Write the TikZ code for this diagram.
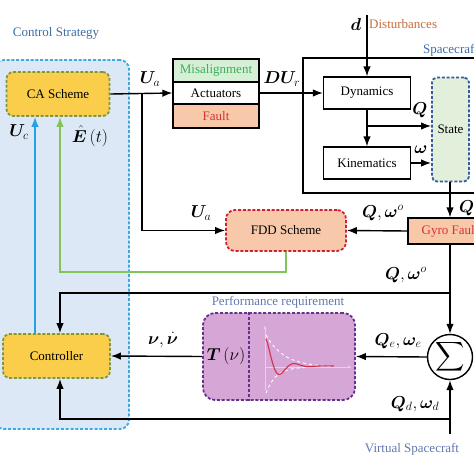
\documentclass[tikz,border=0pt]{standalone}
\usepackage{amsmath,bm}
\usepackage{graphicx}
\usepackage{fontspec}
\setmainfont{Liberation Serif}
\usetikzlibrary{arrows.meta,calc}
\definecolor{csfill}{RGB}{220,232,245}
\definecolor{csline}{RGB}{60,170,225}
\definecolor{yel}{RGB}{250,205,75}
\definecolor{olive}{RGB}{130,150,60}
\definecolor{misfill}{RGB}{214,240,214}
\definecolor{mistext}{RGB}{60,175,90}
\definecolor{salmon}{RGB}{248,200,170}
\definecolor{faulttext}{RGB}{215,50,50}
\definecolor{fddline}{RGB}{210,30,50}
\definecolor{statefill}{RGB}{226,239,218}
\definecolor{stateline}{RGB}{55,90,160}
\definecolor{perffill}{RGB}{214,166,214}
\definecolor{perfline}{RGB}{100,50,140}
\definecolor{ucline}{RGB}{40,160,225}
\definecolor{ehline}{RGB}{130,195,90}
\definecolor{lblue}{RGB}{60,110,170}
\definecolor{plblue}{RGB}{100,120,175}
\definecolor{dist}{RGB}{200,110,60}
\definecolor{axcol}{RGB}{225,210,240}
\definecolor{curve}{RGB}{210,50,70}
\begin{document}
\begin{tikzpicture}[x=1pt,y=-1pt,font=\fontsize{13}{15}\selectfont,
  arr/.style={line width=1.4pt,-{Latex[length=10pt,width=7.5pt]}},
  dbox/.style={draw,dash pattern=on 3pt off 1.8pt,line width=1.8pt,rounded corners=7pt,inner sep=0pt},
  sbox/.style={draw,line width=1.2pt,inner sep=0pt},
  lab/.style={font=\fontsize{17}{17}\selectfont,inner sep=0pt}]
\useasboundingbox (0,0) rectangle (474,474);
\clip (0,0) rectangle (474,474);
\fill[white] (0,0) rectangle (474,474);
% group boxes
\node[dbox,draw=csline,fill=csfill,rounded corners=9pt,minimum width=134,minimum height=369] (cs) at (62,244.5) {};
\node[sbox,minimum width=187,minimum height=135] (sc) at (396.5,125.5) {};
% blocks
\node[dbox,draw=olive,fill=yel,minimum width=103,minimum height=44] (ca) at (58,94) {CA Scheme};
\node[dbox,draw=olive,fill=yel,minimum width=107,minimum height=44] (ctrl) at (56.5,356) {Controller};
\node[sbox,fill=misfill,text=mistext,minimum width=86,minimum height=23] (mis) at (216,70.5) {Misalignment};
\node[sbox,fill=white,minimum width=86,minimum height=22] (act) at (216,93) {Actuators};
\node[sbox,fill=salmon,text=faulttext,minimum width=86,minimum height=24] (flt) at (216,116) {Fault};
\node[sbox,fill=white,minimum width=87,minimum height=32] (dyn) at (367,93) {Dynamics};
\node[sbox,fill=white,minimum width=87,minimum height=32] (kin) at (367,163) {Kinematics};
\node[dbox,draw=stateline,fill=statefill,rounded corners=5pt,minimum width=37,minimum height=104] (st) at (450.5,129.5) {State};
\node[sbox,fill=salmon,text=faulttext,minimum width=84,minimum height=26] (gyro) at (450,231) {Gyro Fault};
\node[dbox,draw=fddline,fill=salmon,rounded corners=9pt,minimum width=120,minimum height=41] (fdd) at (286,230.5) {FDD Scheme};
\node[dbox,draw=perfline,fill=perffill,rounded corners=12pt,minimum width=152,minimum height=87] (perf) at (279,356.5) {};
\node[circle,draw,line width=1.4pt,fill=white,minimum size=45,inner sep=0pt] (sig) at (450,357) {\scalebox{1.7}{$\displaystyle\sum$}};
% perf internals
\draw[perfline,dash pattern=on 3pt off 1.8pt,line width=1.8pt] ([xshift=-30]perf.north) -- ([xshift=-30]perf.south);
\node[font=\fontsize{19}{19}\selectfont,inner sep=0pt] (tv) at (226,356) {$\bm{T}\left(\nu\right)$};
\draw[axcol,line width=0.8pt,-{Latex[length=4pt,width=3pt]}] (265,390) -- (265,325);
\draw[axcol,line width=0.8pt,-{Latex[length=4pt,width=3pt]}] (265,367) -- (352,367);
\draw[white,dashed,line width=0.9pt] plot[domain=0:68,samples=40] ({266+\x},{367-32*exp(-\x/18)});
\draw[white,dashed,line width=0.9pt] plot[domain=0:40,samples=30] ({266+\x},{367+26*exp(-\x/10)});
\draw[curve,line width=1.1pt] plot[domain=0:68,samples=90] ({266+\x},{366-27*exp(-\x/12)*cos(12*\x)});
% connectors
\coordinate (ua) at (142,93);
\draw[arr] (ca.east) -- (act.west);
\draw[arr] (ua) |- (fdd.west);
\draw[arr] (act.east) -- (dyn.west);
\coordinate (dtop) at (367,15);
\draw[arr] (dtop) -- (dyn.north);
\draw[arr] (dyn.south) -- (kin.north);
\coordinate (qb) at (367,126);
\draw[arr] (qb) -- (qb -| st.west);
\draw[arr] (kin.east) -- (kin.east -| st.west);
\draw[arr] (st.south -| gyro.north) -- (gyro.north);
\draw[arr] (gyro.west) -- (fdd.east);
\coordinate (eh) at (60,272);
\draw[ehline,arr] (fdd.south) |- (eh) -- (eh |- ca.south);
\draw[ucline,arr] ([xshift=-21.5]ctrl.north) -- ([xshift=-21.5]ctrl.north |- ca.south);
\draw[arr] (gyro.south) -- (sig.north);
\coordinate (fb) at (450,293);
\draw[arr] (fb) -| ([xshift=3.5]ctrl.north);
\draw[arr] (sig.west) -- (perf.east);
\draw[arr] (perf.west) -- (ctrl.east);
\coordinate (vs) at (450,434);
\draw[arr] (vs) -- (sig.south);
\coordinate (vb) at (450,419);
\draw[arr] (vb) -| ([xshift=3.5]ctrl.south);
% labels
\node[lab] (lUa) at (150,79) {$\bm{U}_a$};
\node[lab] (lUa2) at (201,213) {$\bm{U}_a$};
\node[lab] (lUc) at (19,132) {$\bm{U}_c$};
\node[lab] (lE) at (90,136) {$\hat{\bm{E}}\left(t\right)$};
\node[lab] (lDU) at (282,79) {$\bm{D}\bm{U}_r$};
\node[lab] (ld) at (356,24) {$\bm{d}$};
\node[text=dist,anchor=west,inner sep=0pt] (ldist) at (369,24) {Disturbances};
\node[text=lblue,anchor=west,inner sep=0pt] (lsc) at (423,50) {Spacecraft};
\node[lab] (lQ) at (420,110) {$\bm{Q}$};
\node[lab] (lw) at (421,150) {$\bm{\omega}$};
\node[lab] (lQw1) at (383,213) {$\bm{Q},\bm{\omega}^o$};
\node[lab,anchor=west] (lQc) at (459,208) {$\bm{Q}$};
\node[lab] (lQw2) at (406,275) {$\bm{Q},\bm{\omega}^o$};
\node[lab] (lQe) at (398,341) {$\bm{Q}_e,\bm{\omega}_e$};
\node[lab] (lQd) at (415,404) {$\bm{Q}_d,\bm{\omega}_d$};
\node[lab] (lv) at (163,340) {$\bm{\nu},\dot{\bm{\nu}}$};
\node[text=plblue,inner sep=0pt] (lperf) at (278,302) {Performance requirement};
\node[text=plblue,inner sep=0pt] (lvs) at (412,449) {Virtual Spacecraft};
\node[text=lblue,inner sep=0pt] (lcs) at (56,33) {Control Strategy};
\end{tikzpicture}
\end{document}
